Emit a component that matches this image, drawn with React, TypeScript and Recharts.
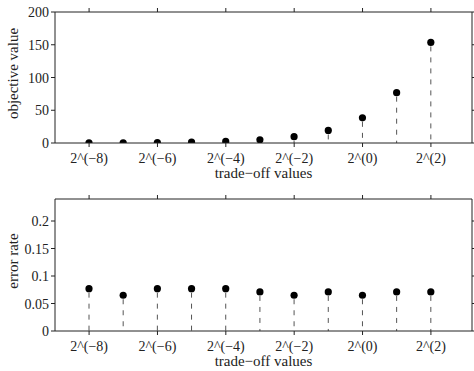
import { ComposedChart, Bar, XAxis, YAxis } from 'recharts';

// trade-off parameter grid, 2^(-8) .. 2^(2)
const tradeoffs = ['2^(−8)', '2^(−7)', '2^(−6)', '2^(−5)', '2^(−4)', '2^(−3)', '2^(−2)', '2^(−1)', '2^(0)', '2^(1)', '2^(2)'];
const objectiveValues = [0.15, 0.3, 0.6, 1.2, 2.4, 4.8, 9.6, 19.2, 38.4, 76.8, 153.6];
const errorRates = [0.077, 0.065, 0.077, 0.077, 0.077, 0.071, 0.065, 0.071, 0.065, 0.071, 0.071];

const objectiveTicks = [0, 50, 100, 150, 200];
const errorTicks = [0, 0.05, 0.1, 0.15, 0.2];

const FONT = '"Liberation Serif", "DejaVu Serif", serif';
const INK = '#222';
const W = 474;
const LEFT = 55;
const RIGHT = 472;

interface PanelProps {
    values: number[];
    domain: [number, number];
    ticks: number[];
    ylabel: string;
    height: number;
    top: number;
    plotH: number;
}

function Stem(props: any) {
    const { x, y, width, height } = props;
    const cx = x + width / 2;
    return (
        <g>
            <line x1={cx} x2={cx} y1={y + 4} y2={y + height} stroke="#555" strokeWidth={1} strokeDasharray="5 6" />
            <circle cx={cx} cy={y} r={3.6} fill="#000" />
        </g>
    );
}

function Panel({ values, domain, ticks, ylabel, height, top, plotH }: PanelProps) {
    const data = tradeoffs.map((label, i) => ({ label, v: values[i] }));
    const bottom = top + plotH;
    const labelY = top + plotH / 2 - 4;

    const xTick = (p: any) => (
        <g>
            <line x1={p.x} x2={p.x} y1={bottom} y2={bottom + 4} stroke={INK} />
            <line x1={p.x} x2={p.x} y1={top} y2={top - 4} stroke={INK} />
            <text x={p.x} y={bottom + 20} textAnchor="middle" fontFamily={FONT} fontSize={14} fill={INK}>{p.payload.value}</text>
        </g>
    );
    const yTick = (p: any) => (
        <g>
            {p.index === 0 && (
                <g>
                    <line x1={LEFT} x2={RIGHT} y1={top} y2={top} stroke={INK} />
                    <line x1={RIGHT} x2={RIGHT} y1={top} y2={bottom} stroke={INK} />
                </g>
            )}
            <line x1={LEFT - 4} x2={LEFT} y1={p.y} y2={p.y} stroke={INK} />
            <line x1={RIGHT} x2={RIGHT + 4} y1={p.y} y2={p.y} stroke={INK} />
            <text x={LEFT - 6} y={p.y + 5} textAnchor="end" fontFamily={FONT} fontSize={14} fill={INK}>{p.payload.value}</text>
        </g>
    );

    return (
        <ComposedChart width={W} height={height} data={data} margin={{ top, right: W - RIGHT, bottom: 0, left: 0 }} barCategoryGap={0}>
            <XAxis
                dataKey="label"
                interval={1}
                padding={{ left: 17, right: 24 }}
                height={height - top - plotH}
                tickLine={false}
                tick={xTick}
                axisLine={{ stroke: INK }}
                label={() => (
                    <text x={(LEFT + RIGHT) / 2} y={bottom + 35} textAnchor="middle" fontFamily={FONT} fontSize={15} fill={INK}>trade−off values</text>
                )}
            />
            <YAxis
                width={LEFT}
                domain={domain}
                ticks={ticks}
                allowDataOverflow
                tickLine={false}
                tick={yTick}
                axisLine={{ stroke: INK }}
                label={() => (
                    <text x={18} y={labelY} transform={`rotate(-90, 18, ${labelY})`} textAnchor="middle" fontFamily={FONT} fontSize={15} fill={INK}>{ylabel}</text>
                )}
            />
            <Bar dataKey="v" shape={Stem} isAnimationActive={false} />
        </ComposedChart>
    );
}

export default function App() {
    return (
        <div style={{ position: 'absolute', left: 0, top: 0, width: W, height: 371, background: '#fff' }}>
            <Panel values={objectiveValues} domain={[0, 200]} ticks={objectiveTicks} ylabel="objective value" height={185} top={12} plotH={131} />
            <Panel values={errorRates} domain={[0, 0.24]} ticks={errorTicks} ylabel="error rate" height={186} top={14} plotH={132} />
        </div>
    );
}
